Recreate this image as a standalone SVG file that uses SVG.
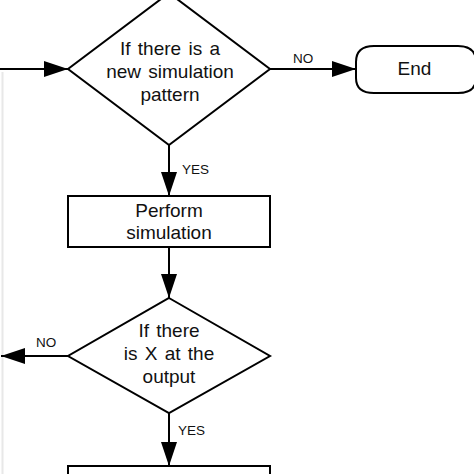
<svg xmlns="http://www.w3.org/2000/svg" width="474" height="474" viewBox="0 0 474 474">
<style>
.shape{fill:#fff;stroke:#000;stroke-width:2}
.conn{fill:none;stroke:#000;stroke-width:2}
.t{font-family:"Liberation Sans",Arial,sans-serif;font-size:19px;fill:#111;text-anchor:middle;word-spacing:2px}
.lbl{font-family:"Liberation Sans",Arial,sans-serif;font-size:13.5px;fill:#111}
</style>
<defs>
<marker id="arr" viewBox="0 0 24 16" refX="24" refY="8" markerWidth="24" markerHeight="16" markerUnits="userSpaceOnUse" orient="auto">
<path d="M0,0 L24,8 L0,16 Z" fill="#000"/>
</marker>
</defs>
<rect width="474" height="474" fill="#fff"/>
<g id="connectors">
<line x1="2.5" y1="72" x2="2.5" y2="474" stroke="#e8e8e8" stroke-width="2"/>
<path class="conn" d="M0,69 H68" marker-end="url(#arr)"/>
<path class="conn" d="M270,69 H356" marker-end="url(#arr)"/>
<path class="conn" d="M169,145 V196" marker-end="url(#arr)"/>
<path class="conn" d="M169,247 V298" marker-end="url(#arr)"/>
<path class="conn" d="M68,356 H1" marker-end="url(#arr)"/>
<path class="conn" d="M169,413 V466" marker-end="url(#arr)"/>
<text class="lbl" x="293" y="63">NO</text>
<text class="lbl" x="182" y="174">YES</text>
<text class="lbl" x="36" y="347">NO</text>
<text class="lbl" x="178" y="435">YES</text>
</g>
<g id="decision1">
<polygon class="shape" points="169,-7 270,69 169,145 68,69"/>
<text class="t" x="170" y="55">If there is a</text>
<text class="t" x="170" y="78">new simulation</text>
<text class="t" x="170" y="101">pattern</text>
</g>
<g id="end">
<path class="shape" d="M374,46 H458 Q476,46 476,62 V78 Q476,93 458,93 H374 Q356,93 356,78 V62 Q356,46 374,46 Z"/>
<text class="t" x="414.5" y="75">End</text>
</g>
<g id="simulate">
<rect class="shape" x="68" y="196" width="202" height="51"/>
<text class="t" x="169" y="216.5">Perform</text>
<text class="t" x="169" y="239">simulation</text>
</g>
<g id="decision2">
<polygon class="shape" points="169,298 270,356 169,413 68,356"/>
<text class="t" x="169" y="337">If there</text>
<text class="t" x="169" y="360">is X at the</text>
<text class="t" x="169" y="383">output</text>
</g>
<g id="next">
<rect class="shape" x="68" y="466" width="202" height="20"/>
</g>
</svg>
